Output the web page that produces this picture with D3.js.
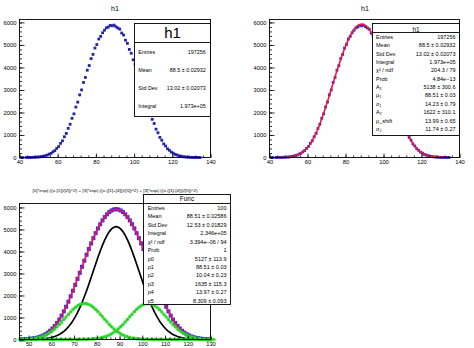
<!DOCTYPE html>
<html><head><meta charset="utf-8">
<script src="https://cdn.jsdelivr.net/npm/d3@7"></script>
<style>
body{margin:0;background:#fff}
svg{display:block}
text{font-family:"Liberation Sans",Arial,Helvetica,sans-serif}
</style>
</head><body>
<svg id="c" width="474" height="348"></svg>
<script>
// ---------------- DATA ----------------
// h1 histogram: 100 bins of width 1 starting at 40
const h1BinStart = 40, h1BinWidth = 1;
const h1Counts = [0,1,0,2,4,3,7,10,13,22,27,44,55,82,103,147,183,251,306,405,489,628,741,921,1070,1295,1476,1741,1938,2240,2460,2781,3002,3334,3556,3878,4085,4392,4580,4861,5018,5262,5380,5540,5655,5760,5795,5870,5850,5880,5810,5752,5701,5528,5440,5210,5071,4800,4630,4338,4138,3820,3605,3280,3051,2730,2505,2192,1984,1697,1511,1259,1098,893,767,603,510,388,320,238,193,137,110,74,60,38,31,18,15,8,6,3,3,1,1,0,0,0,0,0];
// fitted curve of the top-right panel, sampled every 1 from 44.5
const fitStart = 44.5, fitStep = 1;
const fitValues = [3,4,6,9,14,20,29,41,57,78,106,142,187,244,313,397,498,616,752,908,1083,1278,1490,1718,1962,2216,2482,2755,3029,3305,3581,3849,4112,4365,4606,4833,5046,5239,5412,5563,5689,5790,5863,5908,5923,5908,5863,5790,5689,5563,5412,5239,5046,4833,4606,4365,4112,3849,3581,3305,3029,2755,2482,2216,1962,1718,1490,1278,1083,908,752,616,498,397,313,244,187,142,106,78,57,41,29,20,14,9,6,4,3];
// bottom panel "Func", sampled every 1 from 46.5
const funcStart = 46.5, funcStep = 1;
const funcTotal = [6,9,14,20,29,41,57,78,106,142,187,244,313,397,498,616,752,908,1083,1278,1490,1718,1962,2216,2482,2755,3029,3305,3581,3849,4112,4365,4606,4833,5046,5239,5412,5563,5689,5790,5863,5908,5923,5908,5863,5790,5689,5563,5412,5239,5046,4833,4606,4365,4112,3849,3581,3305,3029,2755,2482,2216,1962,1718,1490,1278,1083,908,752,616,498,397,313,244,187,142,106,78,57,41,29,20,14,9];
const funcMain = [1,1,2,3,4,6,8,12,17,23,32,44,59,79,105,138,179,231,294,372,465,575,705,855,1028,1223,1440,1679,1940,2217,2510,2813,3122,3430,3733,4021,4289,4529,4736,4903,5026,5102,5127,5102,5026,4903,4736,4529,4289,4021,3733,3430,3122,2813,2510,2217,1940,1679,1440,1223,1028,855,705,575,465,372,294,231,179,138,105,79,59,44,32,23,17,12,8,6,4,3,2,1];
const funcSideRight = [0,0,0,0,0,0,0,0,0,0,0,0,0,0,0,0,0,0,0,0,0,0,0,1,1,2,2,4,6,9,12,18,26,36,50,68,91,121,158,203,258,323,398,484,579,684,796,913,1032,1150,1263,1367,1459,1534,1590,1624,1635,1622,1587,1530,1454,1361,1256,1143,1025,906,789,677,573,478,393,318,254,200,155,119,89,66,49,35,25,17,12,8];
const funcSideLeft = [6,8,12,17,25,35,49,66,89,119,155,200,254,318,393,478,573,677,789,906,1025,1143,1256,1361,1454,1530,1587,1622,1635,1624,1590,1534,1459,1367,1263,1150,1032,913,796,684,579,484,398,323,258,203,158,121,91,68,50,36,26,18,12,9,6,4,2,2,1,1,0,0,0,0,0,0,0,0,0,0,0,0,0,0,0,0,0,0,0,0,0,0,0,0];

const topXTicks = [40,60,80,100,120,140];
const botXTicks = [50,60,70,80,90,100,110,120,130];
const yTicks = [0,1000,2000,3000,4000,5000,6000];

const formulaTitle = "[0]*exp(-((x-[1])/[2])^2) + [3]*exp(-((x-([1]+[4]))/[5])^2) + [3]*exp(-((x-([1]-[4]))/[5])^2)";

const statsLeft = [["Entries","197256"],["Mean","88.5 \u00b1 0.02932"],["Std Dev","13.02 \u00b1 0.02073"],["Integral","1.973e+05"]];
const statsRight = [["Entries","197256"],["Mean","88.5 \u00b1 0.02932"],["Std Dev","13.02 \u00b1 0.02073"],["Integral","1.973e+05"],["\u03c7\u00b2 / ndf","204.3 / 79"],["Prob","4.84e\u221213"],["A\u2081","5138 \u00b1 300.6"],["\u03bc\u2081","88.51 \u00b1 0.03"],["\u03c3\u2081","14.23 \u00b1 0.79"],["A\u2082","1622 \u00b1 310.1"],["\u03bc_shift","13.99 \u00b1 0.65"],["\u03c3\u2082","11.74 \u00b1 0.27"]];
const statsFunc = [["Entries","100"],["Mean","88.51 \u00b1 0.02586"],["Std Dev","12.53 \u00b1 0.01829"],["Integral","2.346e+05"],["\u03c7\u00b2 / ndf","3.394e\u221206 / 94"],["Prob","1"],["p0","5127 \u00b1 113.9"],["p1","88.51 \u00b1 0.03"],["p2","10.04 \u00b1 0.23"],["p3","1635 \u00b1 115.3"],["p4","13.97 \u00b1 0.27"],["p5","8.309 \u00b1 0.093"]];

// ---------------- DRAWING ----------------
const svg = d3.select("#c");
const FS = 5.8;

function range(a, b, s) { const r = []; for (let v = a; v <= b + 1e-9; v += s) r.push(+v.toFixed(6)); return r; }

function axes(x, y, xMajor, xMinorStep, yMajor, yMinorStep) {
  const [xa, xb] = x.domain(), [ya, yb] = y.domain();
  const bottom = y.range()[0], left = x.range()[0];
  const styl = g => {
    g.select("path.domain").remove();
    g.attr("font-size", null).attr("font-family", null);
    g.selectAll("line").attr("stroke", "#000").attr("stroke-width", 0.8);
    g.selectAll("text").attr("font-size", FS).attr("fill", "#000");
  };
  svg.append("g").attr("transform", `translate(0,${bottom})`)
    .call(d3.axisBottom(x).tickValues(range(xa, xb, xMinorStep)).tickSizeInner(-2).tickSizeOuter(0).tickFormat(""))
    .call(styl);
  svg.append("g").attr("transform", `translate(0,${bottom})`)
    .call(d3.axisBottom(x).tickValues(xMajor).tickSizeInner(-4).tickSizeOuter(0).tickPadding(2.3).tickFormat(d3.format("d")))
    .call(styl);
  svg.append("g").attr("transform", `translate(${left},0)`)
    .call(d3.axisLeft(y).tickValues(range(ya, yb, yMinorStep)).tickSizeInner(-2.5).tickSizeOuter(0).tickFormat(""))
    .call(styl);
  svg.append("g").attr("transform", `translate(${left},0)`)
    .call(d3.axisLeft(y).tickValues(yMajor).tickSizeInner(-5).tickSizeOuter(0).tickPadding(3).tickFormat(d3.format("d")))
    .call(styl);
}

function frame(x, y) {
  const [x0, x1] = x.range(), [y1, y0] = y.range();
  svg.append("rect").attr("x", x0).attr("y", y0).attr("width", x1 - x0).attr("height", y1 - y0)
    .attr("fill", "none").attr("stroke", "#000").attr("stroke-width", 0.9);
}

function stats(b, title, titleSize, titleBase, sepY, rows, row0, rowStep, labelX, valueX, fs) {
  svg.append("rect").attr("x", b[0]).attr("y", b[1]).attr("width", b[2] - b[0]).attr("height", b[3] - b[1])
    .attr("fill", "#fff").attr("stroke", "#000").attr("stroke-width", 0.9);
  svg.append("line").attr("x1", b[0]).attr("x2", b[2]).attr("y1", sepY).attr("y2", sepY)
    .attr("stroke", "#000").attr("stroke-width", 0.9);
  svg.append("text").attr("x", (b[0] + b[2]) / 2).attr("y", titleBase).attr("text-anchor", "middle")
    .attr("font-size", titleSize).text(title);
  rows.forEach((r, i) => {
    const cy = row0 + i * rowStep + fs * 0.36;
    svg.append("text").attr("x", labelX).attr("y", cy).attr("font-size", fs).text(r[0]);
    svg.append("text").attr("x", valueX).attr("y", cy).attr("font-size", fs).attr("text-anchor", "end").text(r[1]);
  });
}

function squares(data, xf, x, y, size, color) {
  svg.append("g").selectAll("rect").data(data.map((v, i) => [xf(i), v]).filter(d => d[1] > 0))
    .join("rect").attr("x", d => x(d[0]) - size / 2).attr("y", d => y(d[1]) - size / 2)
    .attr("width", size).attr("height", size).attr("fill", color);
}

function curve(data, xf, x, y, color, width, dash) {
  const line = d3.line().x((v, i) => x(xf(i))).y(v => y(v));
  const p = svg.append("path").attr("d", line(data)).attr("fill", "none").attr("stroke", color)
    .attr("stroke-width", width).attr("stroke-linejoin", "round");
  if (dash) p.attr("stroke-dasharray", dash);
  return p;
}

// ---- top-left ----
{
  const x = d3.scaleLinear([40, 140], [19.5, 210.5]);
  const y = d3.scaleLinear([0, 6130], [157.5, 19.5]);
  svg.append("text").attr("x", 115).attr("y", 10.5).attr("text-anchor", "middle").attr("font-size", 7).text("h1");
  squares(h1Counts, i => h1BinStart + (i + 0.5) * h1BinWidth, x, y, 2.8, "#2424a8");
  frame(x, y);
  axes(x, y, topXTicks, 4, yTicks, 200);
  stats([134.5, 23.5, 210.5, 116.5], "h1", 15, 37.8, 42.5, statsLeft, 52, 18, 138.3, 205.7, 5.4);
}

// ---- top-right ----
{
  const x = d3.scaleLinear([40, 140], [269.5, 459.5]);
  const y = d3.scaleLinear([0, 6130], [157.5, 19.5]);
  svg.append("text").attr("x", 365).attr("y", 10.5).attr("text-anchor", "middle").attr("font-size", 7).text("h1");
  squares(h1Counts, i => h1BinStart + (i + 0.5) * h1BinWidth, x, y, 2.8, "#2b2bc0");
  curve(fitValues, i => fitStart + i * fitStep, x, y, "#ee1744", 1.6);
  frame(x, y);
  axes(x, y, topXTicks, 4, yTicks, 200);
  stats([372.5, 23.5, 459.5, 135.5], "h1", 6.5, 31.6, 32.5, statsRight, 36.8, 8.38, 376, 455.5, 5.5);
}

// ---- bottom-left ----
{
  const x = d3.scaleLinear([46, 130], [19.5, 210.5]);
  const y = d3.scaleLinear([0, 6180], [339.5, 203.5]);
  const ft = svg.append("text").attr("x", 115).attr("y", 192.3).attr("text-anchor", "middle")
    .attr("font-size", 4.3).text(formulaTitle);
  ft.attr("textLength", 165).attr("lengthAdjust", "spacingAndGlyphs");
  const xf = i => funcStart + i * funcStep;
  squares(funcTotal, xf, x, y, 4, "#2f2ff5");
  curve(funcTotal, xf, x, y, "#e8145a", 2).attr("opacity", 0.9);
  curve(funcMain, xf, x, y, "#000", 1.7);
  const green = "#26d626";
  [funcSideLeft, funcSideRight].forEach(arr => {
    curve(arr, xf, x, y, green, 1.5, "3.5,1.2,1,1.2");
    svg.append("g").selectAll("path").data(arr).join("path")
      .attr("transform", (v, i) => `translate(${x(xf(i))},${y(v)})`)
      .attr("d", "M-1.8,0H1.8M0,-1.8V1.8M-1.3,-1.3L1.3,1.3M-1.3,1.3L1.3,-1.3")
      .attr("stroke", green).attr("stroke-width", 1).attr("fill", "none");
  });
  frame(x, y);
  axes(x, y, botXTicks, 2, yTicks, 200);
  stats([143.5, 194.5, 230.5, 304.5], "Func", 6.5, 201.3, 203.5, statsFunc, 208, 8.43, 147.7, 226.5, 5.5);
}
</script>
</body></html>
